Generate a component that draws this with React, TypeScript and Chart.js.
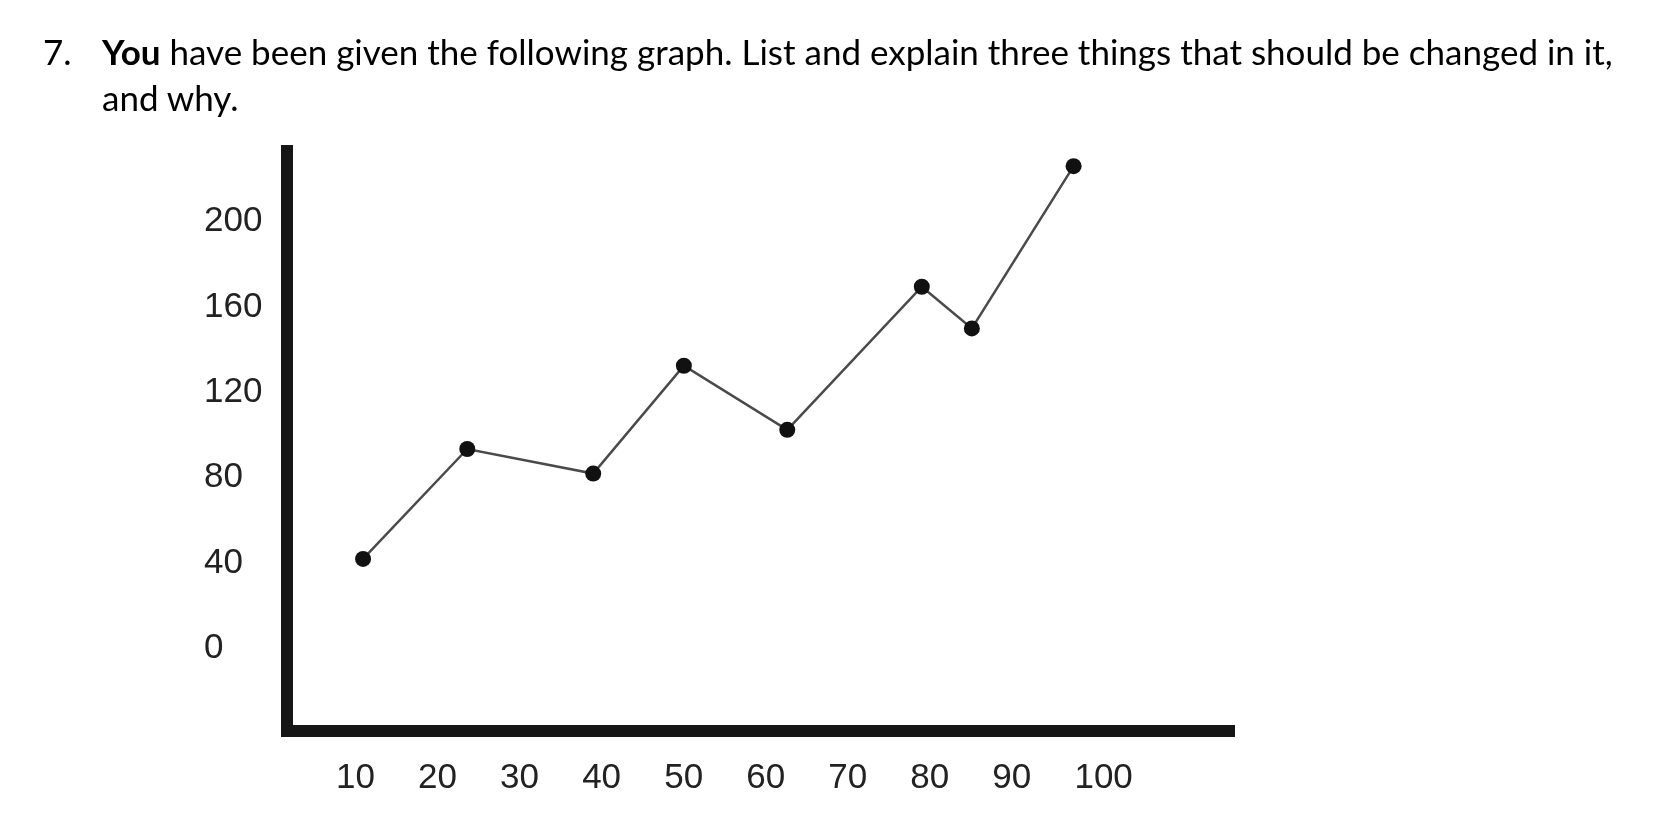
import React, { useEffect, useRef } from "react";
import { Chart, registerables } from "chart.js";

Chart.register(...registerables);

// ---- data ----
const xValues = [13.3, 26.0, 41.35, 52.4, 65.0, 81.4, 87.5, 99.9];
const yValues = [42, 93.5, 82, 132.5, 102.5, 169.5, 150, 226];
const xTickLabels = [10, 20, 30, 40, 50, 60, 70, 80, 90, 100];
const yTickLabels = [0, 40, 80, 120, 160, 200];

const questionNumber = "7.";
const questionBold = "You";
const questionLine1 =
  " have been given the following graph. List and explain three things that should be changed in it,";
const questionLine2 = "and why.";

const tickFont = {
  family: "'Liberation Sans Narrow', 'Liberation Sans', Arial, sans-serif",
  size: 35,
};

export default function App() {
  const canvasRef = useRef<HTMLCanvasElement | null>(null);

  useEffect(() => {
    const canvas = canvasRef.current;
    if (!canvas) return;
    const chart = new Chart(canvas, {
      type: "scatter",
      data: {
        datasets: [
          {
            data: xValues.map((x, i) => ({ x, y: yValues[i] })),
            showLine: true,
            borderColor: "#4a4a4a",
            borderWidth: 2.5,
            pointRadius: 8,
            pointHoverRadius: 8,
            pointBackgroundColor: "#111111",
            pointBorderColor: "#111111",
            pointBorderWidth: 0,
          },
        ],
      },
      options: {
        animation: false,
        responsive: false,
        maintainAspectRatio: false,
        events: [],
        plugins: {
          legend: { display: false },
          tooltip: { enabled: false },
          title: { display: false },
        },
        layout: { padding: { left: 204, top: 151, right: 439, bottom: 0 } },
        scales: {
          x: {
            type: "linear",
            min: 4.03,
            max: 119.45,
            grid: { display: false, drawTicks: false, tickLength: 0 },
            border: { display: true, width: 12, color: "#161616" },
            afterBuildTicks: (s: any) => {
              s.ticks = xTickLabels.map((v) => ({ value: v }));
            },
            afterFit: (s: any) => {
              s.height = 97;
            },
            ticks: {
              font: tickFont,
              color: "#222222",
              padding: 26,
              align: "start",
              autoSkip: false,
              maxRotation: 0,
              minRotation: 0,
            },
          },
          y: {
            type: "linear",
            min: -38.6,
            max: 233.1,
            grid: { display: false, drawTicks: false, tickLength: 0 },
            border: { display: true, width: 12, color: "#161616" },
            afterBuildTicks: (s: any) => {
              s.ticks = yTickLabels.map((v) => ({ value: v }));
            },
            afterFit: (s: any) => {
              s.width = 83;
            },
            ticks: {
              font: tickFont,
              color: "#222222",
              crossAlign: "far",
              padding: 10,
              autoSkip: false,
            },
          },
        },
      },
    });
    return () => chart.destroy();
  }, []);

  const textFont = "Lato, 'Open Sans', sans-serif";

  return (
    <div
      style={{
        position: "fixed",
        left: 0,
        top: 0,
        width: 1673,
        height: 828,
        background: "#ffffff",
        overflow: "hidden",
      }}
    >
      <canvas
        ref={canvasRef}
        width={1673}
        height={828}
        style={{ position: "absolute", left: 0, top: 0, display: "block" }}
      />
      <div
        style={{
          position: "absolute",
          left: 43,
          top: 27.5,
          fontFamily: textFont,
          fontSize: 35,
          lineHeight: "46px",
          color: "#000",
          whiteSpace: "nowrap",
        }}
      >
        {questionNumber}
      </div>
      <div
        style={{
          position: "absolute",
          left: 102,
          top: 27.5,
          fontFamily: textFont,
          fontSize: 35,
          lineHeight: "46px",
          color: "#000",
          whiteSpace: "nowrap",
        }}
      >
        <div>
          <b>{questionBold}</b>
          {questionLine1}
        </div>
        <div>{questionLine2}</div>
      </div>
    </div>
  );
}
